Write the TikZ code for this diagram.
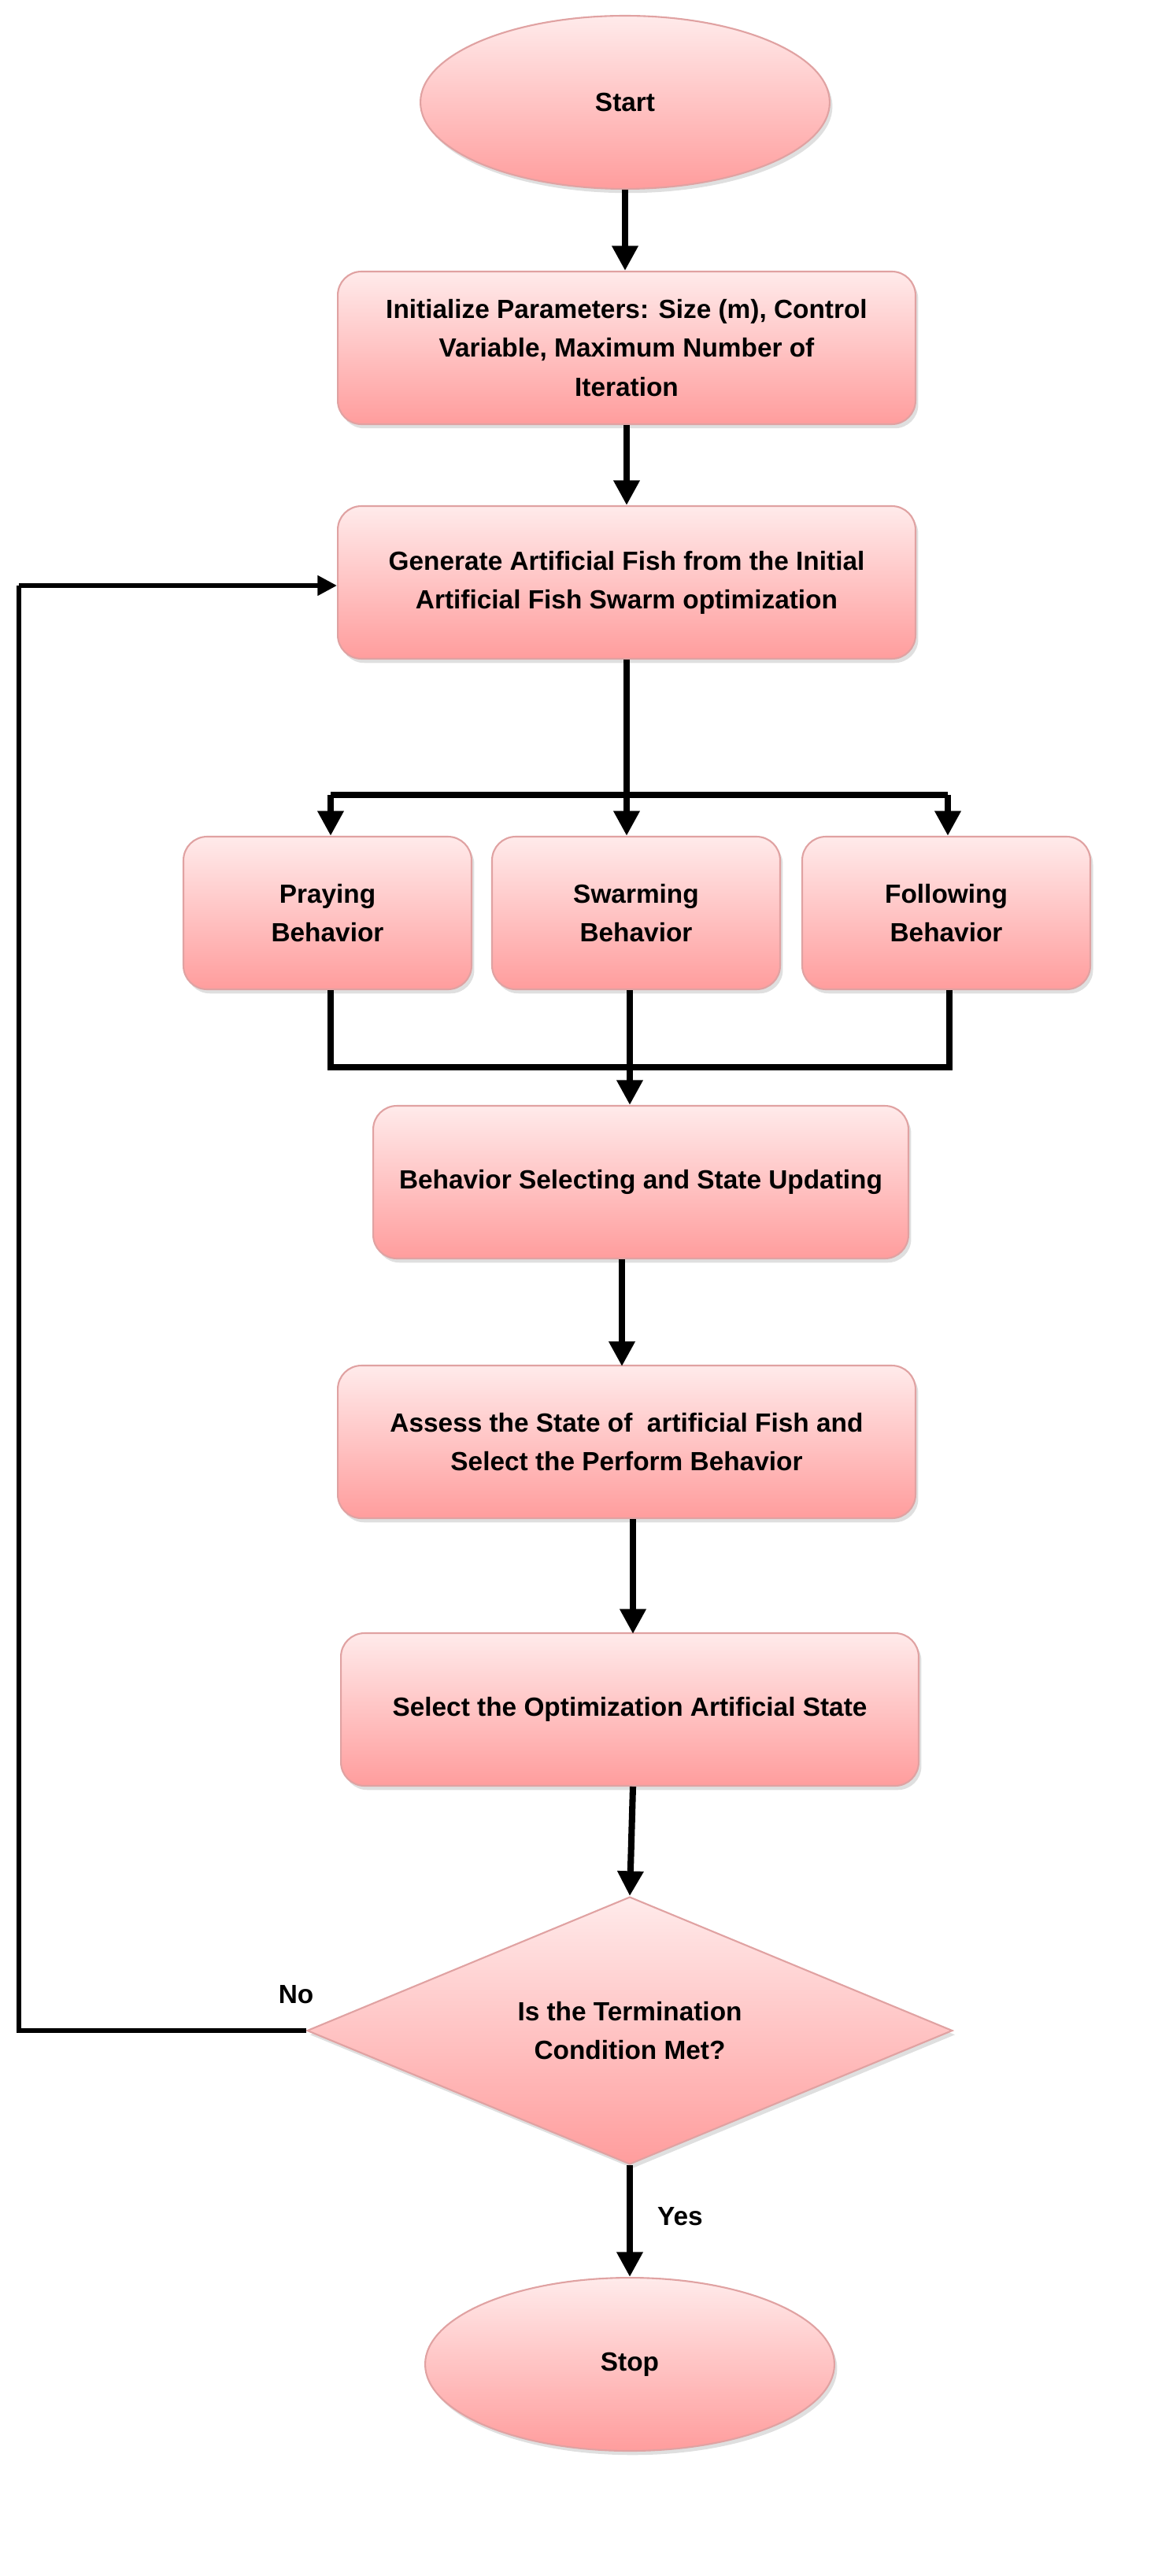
\documentclass[tikz,border=0pt]{standalone}
\usepackage{fontspec}
\setmainfont{Liberation Sans}
\usetikzlibrary{shapes.geometric,arrows.meta,shadows}
\begin{document}
\begin{tikzpicture}[x=0.02cm,y=-0.02cm,
  every node/.style={font=\fontsize{9.5}{14}\selectfont\bfseries,align=center,inner sep=2pt},
  pinkfill/.style={draw=red!35!pink!80!black!60,line width=0.6pt,top color=red!8,bottom color=red!40!pink!70,drop shadow={opacity=0.25,shadow xshift=1pt,shadow yshift=-1.5pt}},
  proc/.style={pinkfill,rounded corners=0.3cm,minimum height=1.94cm},
  term/.style={pinkfill,ellipse,minimum width=5.2cm,minimum height=2.2cm},
  conn/.style={line width=2.3pt,-{Triangle[length=9pt,width=9pt]}},
  plain/.style={line width=2.3pt},
  thin/.style={line width=1.6pt,-{Triangle[length=7pt,width=7pt]}}]
\useasboundingbox (0,0) rectangle (735,1636.5);
\node[term] (start) at (397,65) {Start};
\node[proc,minimum width=7.34cm] (init) at (398,221) {Initialize Parameters: Size (m), Control\\Variable, Maximum Number of\\Iteration};
\node[proc,minimum width=7.34cm] (gen) at (398,370) {Generate Artificial Fish from the Initial\\Artificial Fish Swarm optimization};
\node[proc,minimum width=3.66cm] (pray) at (208,580) {Praying\\Behavior};
\node[proc,minimum width=3.66cm] (swarm) at (404,580) {Swarming\\Behavior};
\node[proc,minimum width=3.66cm] (follow) at (601,580) {Following\\Behavior};
\node[proc,minimum width=6.8cm] (beh) at (407,751) {Behavior Selecting and State Updating};
\node[proc,minimum width=7.34cm] (assess) at (398,916) {Assess the State of\ \ artificial Fish and\\Select the Perform Behavior};
\node[proc,minimum width=7.34cm] (sel) at (400,1086) {Select the Optimization Artificial State};
\node[pinkfill,diamond,aspect=2.4,minimum width=8.2cm,minimum height=3.4cm,inner sep=0pt] (dec) at (400,1290) {Is the Termination\\Condition Met?};
\node[term] (stop) at (400,1502) {Stop};
\coordinate (jtop) at (398,505);
\coordinate (jl) at (210,505);
\coordinate (jr) at (602,505);
\coordinate (bl) at (210,678);
\coordinate (br) at (603,678);
\coordinate (bm) at (400,678);
\coordinate (nl) at (12,1290);
\coordinate (nt) at (12,372);
\draw[conn] (start) -- (init.north -| start);
\draw[conn] (init) -- (gen);
\draw[plain] (gen.south) -- (jtop);
\draw[plain] (jl) -- (jr);
\draw[conn] (jl) -- (jl |- pray.north);
\draw[conn] (jtop) -- (jtop |- swarm.north);
\draw[conn] (jr) -- (jr |- follow.north);
\draw[plain] (pray.south -| bl) -- (bl) -- (br) -- (follow.south -| br);
\draw[plain] (swarm.south -| bm) -- (bm);
\draw[conn] (bm) -- (bm |- beh.north);
\draw[conn] (395,800) -- (395,868);
\draw[conn] (402,965) -- (402,1038);
\draw[conn] (402,1135) -- (dec.north);
\draw[conn] (dec.south) -- (stop.north);
\draw[line width=1.6pt] (dec.west) -- (nl) -- (nt);
\draw[thin] (nt) -- (gen.west |- nt);
\node at (188,1267) {No};
\node at (432,1408) {Yes};
\end{tikzpicture}
\end{document}
